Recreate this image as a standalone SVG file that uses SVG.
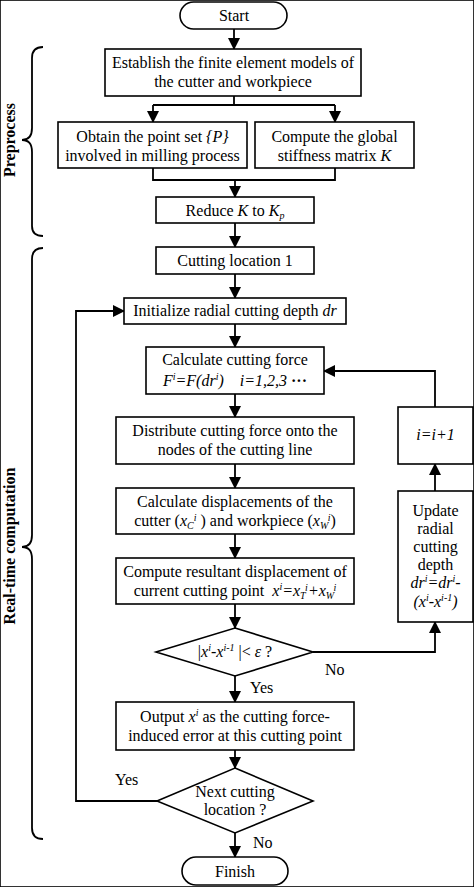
<svg xmlns="http://www.w3.org/2000/svg" width="474" height="887" viewBox="0 0 474 887">
<defs>
<marker id="ah" markerWidth="12" markerHeight="12" viewBox="0 0 12 12" refX="11" refY="6" orient="auto" markerUnits="userSpaceOnUse">
<path d="M0,0 L12,6 L0,12 Z" fill="#000"/>
</marker>
<style>
rect,polygon{fill:#fff;stroke:#000;stroke-width:1.6}
.c{fill:none;stroke:#000;stroke-width:1.8}
.a{marker-end:url(#ah)}
text{font-family:"Liberation Serif","Times New Roman",serif;font-size:16px;fill:#000;text-anchor:middle}
.l{text-anchor:start}
.i{font-style:italic}
.s{font-size:10px}
.b{font-weight:bold;font-size:16px}
.br{fill:none;stroke:#000;stroke-width:1.8}
</style>
</defs>
<rect width="474" height="887" fill="#fff" stroke="none"/>

<g id="connectors">
<path class="c a" d="M234,29 V49"/>
<path class="c" d="M234,96 V105 M153,105 H335"/>
<path class="c a" d="M153,105 V122"/>
<path class="c a" d="M335,105 V122"/>
<path class="c" d="M153,168 V180 H335 V168"/>
<path class="c a" d="M235,180 V197"/>
<path class="c a" d="M235,223 V247"/>
<path class="c a" d="M235,274 V298"/>
<path class="c a" d="M235,324 V347"/>
<path class="c a" d="M235,394 V417"/>
<path class="c a" d="M235,464 V488"/>
<path class="c a" d="M235,534 V558"/>
<path class="c a" d="M235,604 V628"/>
<path class="c a" d="M235,676 V702"/>
<path class="c a" d="M235,750 V768"/>
<path class="c a" d="M235,833 V857"/>
<path class="c a" d="M313,652 H435 V622"/>
<path class="c a" d="M435,491 V464"/>
<path class="c a" d="M435,407 V371 H324"/>
<path class="c a" d="M157,801 H76 V311 H124"/>
<text class="l" x="250" y="693">Yes</text>
<text class="l" x="325" y="675">No</text>
<text class="l" x="115" y="785">Yes</text>
<text class="l" x="253" y="848">No</text>
</g>

<g id="braces">
<path class="br" d="M43,47 Q32,47 32,58 V128 Q32,140 22,140 Q32,140 32,152 V226 Q32,236 43,236"/>
<text class="b" transform="translate(15,140) rotate(-90)">Preprocess</text>
<path class="br" d="M43,248 Q32,248 32,259 V535 Q32,547 22,547 Q32,547 32,559 V828 Q32,839 43,839"/>
<text class="b" transform="translate(15,546) rotate(-90)">Real-time computation</text>
</g>

<g id="start">
<rect x="180" y="2" width="107" height="27" rx="13.5"/>
<text x="234" y="21">Start</text>
</g>

<g id="establish">
<rect x="105" y="49" width="256" height="47"/>
<text x="233" y="68">Establish the finite element models of</text>
<text x="233" y="87">the cutter and workpiece</text>
</g>

<g id="pointset">
<rect x="58" y="122" width="189" height="46"/>
<text x="152.5" y="142">Obtain the point set <tspan class="i">{P}</tspan></text>
<text x="152.5" y="161">involved in milling process</text>
</g>

<g id="stiffness">
<rect x="255" y="122" width="159" height="46"/>
<text x="334.5" y="142">Compute the global</text>
<text x="334.5" y="161">stiffness matrix <tspan class="i">K</tspan></text>
</g>

<g id="reduce">
<rect x="156" y="197" width="158" height="26"/>
<text x="235" y="216">Reduce <tspan class="i">K</tspan> to <tspan class="i">K<tspan class="s" dy="3">p</tspan></tspan></text>
</g>

<g id="location1">
<rect x="156" y="247" width="158" height="27"/>
<text x="235" y="266">Cutting location 1</text>
</g>

<g id="init">
<rect x="124" y="298" width="222" height="26"/>
<text x="235" y="316">Initialize radial cutting depth <tspan class="i">dr</tspan></text>
</g>

<g id="force">
<rect x="146" y="347" width="178" height="47"/>
<text x="235" y="365">Calculate cutting force</text>
<text x="235" y="386" class="i">F<tspan class="s" dy="-6">i</tspan><tspan dy="6">=F(dr</tspan><tspan class="s" dy="-6">i</tspan><tspan dy="6">)</tspan><tspan dx="16">i=1,2,3</tspan><tspan font-style="normal" font-weight="bold"> ···</tspan></text>
</g>

<g id="distribute">
<rect x="116" y="417" width="238" height="47"/>
<text x="235" y="436">Distribute cutting force onto the</text>
<text x="235" y="455">nodes of the cutting line</text>
</g>

<g id="displacements">
<rect x="116" y="488" width="238" height="46"/>
<text x="235" y="507">Calculate displacements of the</text>
<text x="235" y="526">cutter (<tspan class="i">x<tspan class="s" dy="3">C</tspan><tspan class="s" dy="-8">i</tspan></tspan><tspan dy="5"> ) and workpiece (</tspan><tspan class="i">x<tspan class="s" dy="3">W</tspan><tspan class="s" dy="-8">i</tspan></tspan><tspan dy="5">)</tspan></text>
</g>

<g id="resultant">
<rect x="116" y="558" width="238" height="46"/>
<text x="235" y="577">Compute resultant displacement of</text>
<text x="235" y="596">current cutting point <tspan class="i" dx="4">x<tspan class="s" dy="-6">i</tspan><tspan dy="6">=x</tspan><tspan class="s" dy="3">T</tspan><tspan class="s" dy="-8">i</tspan><tspan dy="5">+x</tspan><tspan class="s" dy="3">W</tspan><tspan class="s" dy="-8">i</tspan></tspan></text>
</g>

<g id="converge">
<polygon points="235,628 313,652 235,676 156,652"/>
<text x="235" y="657">|<tspan class="i">x<tspan class="s" dy="-6">i</tspan><tspan dy="6">-x</tspan><tspan class="s" dy="-6">i-1</tspan></tspan><tspan dy="6"> |&lt; </tspan><tspan class="i">ε</tspan> ?</text>
</g>

<g id="output">
<rect x="116" y="702" width="238" height="48"/>
<text x="235" y="722">Output <tspan class="i">x<tspan class="s" dy="-6">i</tspan></tspan><tspan dy="6"> as the cutting force-</tspan></text>
<text x="235" y="741">induced error at this cutting point</text>
</g>

<g id="next">
<polygon points="235,768 313,801 235,833 157,801"/>
<text x="235" y="797">Next cutting</text>
<text x="235" y="815">location ?</text>
</g>

<g id="finish">
<rect x="182" y="857" width="106" height="28" rx="14"/>
<text x="235" y="877">Finish</text>
</g>

<g id="increment">
<rect x="398" y="407" width="75" height="57"/>
<text x="435.5" y="440" class="i">i=i+1</text>
</g>

<g id="update">
<rect x="398" y="491" width="75" height="131"/>
<text x="435.5" y="516">Update</text>
<text x="435.5" y="534">radial</text>
<text x="435.5" y="552">cutting</text>
<text x="435.5" y="570">depth</text>
<text x="435.5" y="588" class="i">dr<tspan class="s" dy="-6">i</tspan><tspan dy="6">=dr</tspan><tspan class="s" dy="-6">i</tspan><tspan dy="6">-</tspan></text>
<text x="435.5" y="607" class="i">(x<tspan class="s" dy="-6">i</tspan><tspan dy="6">-x</tspan><tspan class="s" dy="-6">i-1</tspan><tspan dy="6">)</tspan></text>
</g>
</svg>
